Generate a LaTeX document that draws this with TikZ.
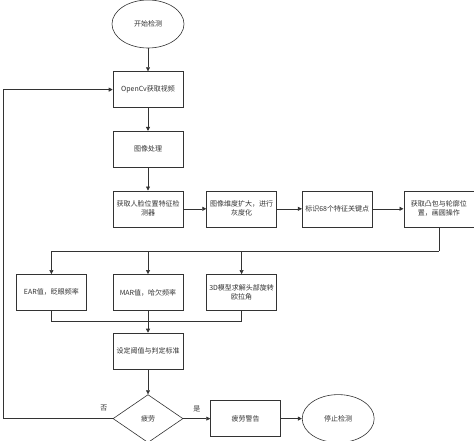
\documentclass[tikz,border=0pt]{standalone}
\usepackage{fontspec}
\newfontfamily\cjk{Noto Sans CJK SC}
\usetikzlibrary{arrows.meta,positioning,calc,shapes.geometric}
\definecolor{Ink}{HTML}{333333}
\tikzset{
  arr/.style={-{Triangle[length=4pt,width=4pt]},line width=0.6pt,draw=Ink},
  lin/.style={line width=0.6pt,draw=Ink},
  stepbox/.style={draw=Ink,line width=0.6pt,fill=white,minimum width=70pt,minimum height=36pt,align=center,inner sep=1pt},
  termbox/.style={draw=Ink,line width=0.6pt,fill=white,ellipse,minimum width=72pt,minimum height=48pt,align=center},
  decbox/.style={draw=Ink,line width=0.6pt,fill=white,diamond,aspect=1.46,minimum width=70pt,minimum height=48pt,inner sep=0pt},
  every node/.style={font=\cjk\fontsize{7}{9}\selectfont,text=Ink}
}
\begin{document}
\begin{tikzpicture}[node distance=23pt]
  \useasboundingbox (0,0) rectangle (474pt,-440pt);
  \node[termbox] (start) at (148pt,-24pt) {开始检测};
  \node[stepbox,below=of start] (cap) {OpenCv获取视频};
  \node[stepbox,below=of cap] (proc) {图像处理};
  \node[stepbox,below=of proc] (face) {获取人脸位置特征检\\测器};
  \node[stepbox,right=of face] (gray) {图像维度扩大，进行\\灰度化};
  \node[stepbox,right=25pt of gray] (mark) {标识68个特征关键点};
  \node[stepbox,right=31pt of mark] (hull) {获取凸包与轮廓位\\置，画圆操作};
  \node[stepbox,below=47pt of face] (mar) {MAR值，哈欠频率};
  \node[stepbox,left=26pt of mar] (ear) {EAR值，眨眼频率};
  \node[stepbox,right=of mar] (rot) {3D模型求解头部旋转\\欧拉角};
  \node[stepbox,below=22pt of mar] (setv) {设定阈值与判定标准};
  \node[decbox,below=25pt of setv] (tired) {疲劳};
  \node[stepbox,right=27pt of tired] (warn) {疲劳警告};
  \node[termbox,right=21pt of warn] (stop) {停止检测};
  \coordinate (bus) at ($(hull.south)+(0,-24pt)$);
  \coordinate (join) at ($(mar.south)+(0,-11pt)$);
  \coordinate (back) at ($(tired.west)+(-109pt,0)$);
  \draw[arr] (start)--(cap);\draw[arr] (cap)--(proc);\draw[arr] (proc)--(face);
  \draw[arr] (face)--(gray);\draw[arr] (gray)--(mark);\draw[arr] (mark)--(hull);
  \draw[lin] (hull.south)--(bus);
  \draw[arr] (bus)-|(ear.north);\draw[arr] (bus)-|(mar.north);\draw[arr] (bus)-|(rot.north);
  \draw[lin] (ear.south)|-(join);\draw[lin] (rot.south)|-(join);\draw[lin] (mar.south)--(join);
  \draw[arr] (join)--(setv);
  \draw[arr] (setv)--(tired);
  \draw[arr] (tired)--node[above=3pt]{是}(warn);
  \draw[arr] (warn)--(stop);
  \draw[arr] (tired.west)--node[pos=0.08,above=4pt]{否}(back)|-(cap.west);
\end{tikzpicture}
\end{document}
